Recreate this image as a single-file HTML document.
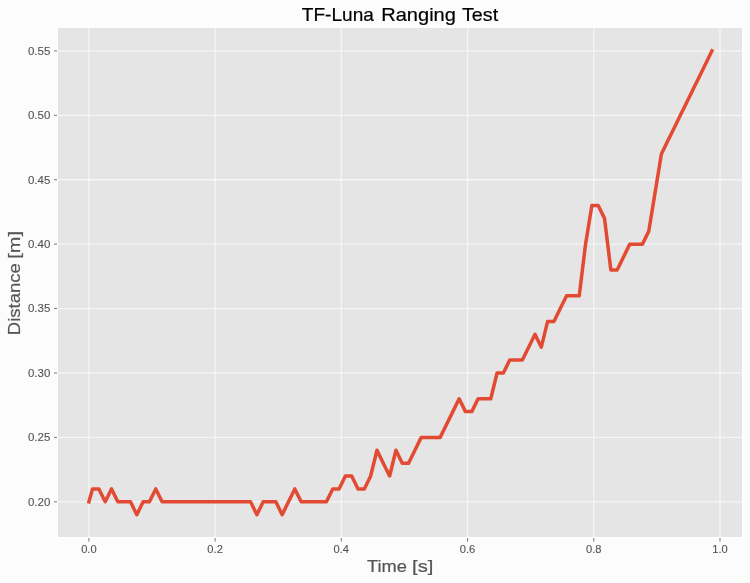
<!DOCTYPE html>
<html><head><meta charset="utf-8"><title>TF-Luna Ranging Test</title>
<style>
html,body{margin:0;padding:0;background:#fcfcfc;width:750px;height:583px;overflow:hidden;}
svg{display:block;will-change:transform;}
text{font-family:"Liberation Sans",sans-serif;}
</style></head>
<body>
<svg width="750" height="583" viewBox="0 0 750 583">
<rect x="0" y="0" width="750" height="583" fill="#fcfcfc"/>
<rect x="57" y="26.5" width="686.5" height="512" fill="#ffffff"/>
<rect x="58" y="28" width="684" height="509" fill="#e5e5e5"/>
<line x1="88.90" y1="28" x2="88.90" y2="537" stroke="#fff" stroke-width="1.3" stroke-opacity="0.6"/>
<line x1="215.12" y1="28" x2="215.12" y2="537" stroke="#fff" stroke-width="1.3" stroke-opacity="0.6"/>
<line x1="341.34" y1="28" x2="341.34" y2="537" stroke="#fff" stroke-width="1.3" stroke-opacity="0.6"/>
<line x1="467.56" y1="28" x2="467.56" y2="537" stroke="#fff" stroke-width="1.3" stroke-opacity="0.6"/>
<line x1="593.78" y1="28" x2="593.78" y2="537" stroke="#fff" stroke-width="1.3" stroke-opacity="0.6"/>
<line x1="720.00" y1="28" x2="720.00" y2="537" stroke="#fff" stroke-width="1.3" stroke-opacity="0.6"/>
<line x1="58" y1="501.80" x2="742" y2="501.80" stroke="#fff" stroke-width="1.3" stroke-opacity="0.6"/>
<line x1="58" y1="437.38" x2="742" y2="437.38" stroke="#fff" stroke-width="1.3" stroke-opacity="0.6"/>
<line x1="58" y1="372.97" x2="742" y2="372.97" stroke="#fff" stroke-width="1.3" stroke-opacity="0.6"/>
<line x1="58" y1="308.56" x2="742" y2="308.56" stroke="#fff" stroke-width="1.3" stroke-opacity="0.6"/>
<line x1="58" y1="244.14" x2="742" y2="244.14" stroke="#fff" stroke-width="1.3" stroke-opacity="0.6"/>
<line x1="58" y1="179.73" x2="742" y2="179.73" stroke="#fff" stroke-width="1.3" stroke-opacity="0.6"/>
<line x1="58" y1="115.31" x2="742" y2="115.31" stroke="#fff" stroke-width="1.3" stroke-opacity="0.6"/>
<line x1="58" y1="50.90" x2="742" y2="50.90" stroke="#fff" stroke-width="1.3" stroke-opacity="0.6"/>
<line x1="88.90" y1="538" x2="88.90" y2="541.5" stroke="#555" stroke-width="0.8"/>
<line x1="215.12" y1="538" x2="215.12" y2="541.5" stroke="#555" stroke-width="0.8"/>
<line x1="341.34" y1="538" x2="341.34" y2="541.5" stroke="#555" stroke-width="0.8"/>
<line x1="467.56" y1="538" x2="467.56" y2="541.5" stroke="#555" stroke-width="0.8"/>
<line x1="593.78" y1="538" x2="593.78" y2="541.5" stroke="#555" stroke-width="0.8"/>
<line x1="720.00" y1="538" x2="720.00" y2="541.5" stroke="#555" stroke-width="0.8"/>
<line x1="54" y1="501.80" x2="57.1" y2="501.80" stroke="#555" stroke-width="0.8"/>
<line x1="54" y1="437.38" x2="57.1" y2="437.38" stroke="#555" stroke-width="0.8"/>
<line x1="54" y1="372.97" x2="57.1" y2="372.97" stroke="#555" stroke-width="0.8"/>
<line x1="54" y1="308.56" x2="57.1" y2="308.56" stroke="#555" stroke-width="0.8"/>
<line x1="54" y1="244.14" x2="57.1" y2="244.14" stroke="#555" stroke-width="0.8"/>
<line x1="54" y1="179.73" x2="57.1" y2="179.73" stroke="#555" stroke-width="0.8"/>
<line x1="54" y1="115.31" x2="57.1" y2="115.31" stroke="#555" stroke-width="0.8"/>
<line x1="54" y1="50.90" x2="57.1" y2="50.90" stroke="#555" stroke-width="0.8"/>
<path d="M88.90 501.80 L92.56 488.92 L98.88 488.92 L105.20 501.80 L111.52 488.92 L117.84 501.80 L124.16 501.80 L130.48 501.80 L136.80 514.68 L143.12 501.80 L149.44 501.80 L155.77 488.92 L162.09 501.80 L168.41 501.80 L174.73 501.80 L181.05 501.80 L187.37 501.80 L193.69 501.80 L200.01 501.80 L206.33 501.80 L212.65 501.80 L218.97 501.80 L225.29 501.80 L231.61 501.80 L237.93 501.80 L244.25 501.80 L250.57 501.80 L256.89 514.68 L263.21 501.80 L269.53 501.80 L275.85 501.80 L282.17 514.68 L288.49 501.80 L294.82 488.92 L301.14 501.80 L307.46 501.80 L313.78 501.80 L320.10 501.80 L326.42 501.80 L332.74 488.92 L339.06 488.92 L345.38 476.03 L351.70 476.03 L358.02 488.92 L364.34 488.92 L370.66 476.03 L376.98 450.27 L383.30 463.15 L389.62 476.03 L395.94 450.27 L402.26 463.15 L408.58 463.15 L414.90 450.27 L421.22 437.38 L427.55 437.38 L433.87 437.38 L440.19 437.38 L446.51 424.50 L452.83 411.62 L459.15 398.74 L465.47 411.62 L471.79 411.62 L478.11 398.74 L484.43 398.74 L490.75 398.74 L497.07 372.97 L503.39 372.97 L509.71 360.09 L516.03 360.09 L522.35 360.09 L528.67 347.20 L534.99 334.32 L541.31 347.20 L547.63 321.44 L553.95 321.44 L560.27 308.56 L566.60 295.67 L572.92 295.67 L579.24 295.67 L585.56 244.14 L591.88 205.49 L598.20 205.49 L604.52 218.37 L610.84 269.91 L617.16 269.91 L623.48 257.02 L629.80 244.14 L636.12 244.14 L642.44 244.14 L648.76 231.26 L655.08 192.61 L661.40 153.96 L667.72 141.08 L674.04 128.19 L680.36 115.31 L686.68 102.43 L693.00 89.54 L699.33 76.66 L705.65 63.78 L711.97 50.90" fill="none" stroke="#e24a33" stroke-width="3.5" stroke-linejoin="round" stroke-linecap="square"/>
<text x="88.90" y="553.35" font-family="'Liberation Sans', sans-serif" font-size="11.2" fill="#555" stroke="#555" stroke-width="0.12" text-anchor="middle" textLength="15.5" lengthAdjust="spacingAndGlyphs">0.0</text>
<text x="215.12" y="553.35" font-family="'Liberation Sans', sans-serif" font-size="11.2" fill="#555" stroke="#555" stroke-width="0.12" text-anchor="middle" textLength="15.5" lengthAdjust="spacingAndGlyphs">0.2</text>
<text x="341.34" y="553.35" font-family="'Liberation Sans', sans-serif" font-size="11.2" fill="#555" stroke="#555" stroke-width="0.12" text-anchor="middle" textLength="15.5" lengthAdjust="spacingAndGlyphs">0.4</text>
<text x="467.56" y="553.35" font-family="'Liberation Sans', sans-serif" font-size="11.2" fill="#555" stroke="#555" stroke-width="0.12" text-anchor="middle" textLength="15.5" lengthAdjust="spacingAndGlyphs">0.6</text>
<text x="593.78" y="553.35" font-family="'Liberation Sans', sans-serif" font-size="11.2" fill="#555" stroke="#555" stroke-width="0.12" text-anchor="middle" textLength="15.5" lengthAdjust="spacingAndGlyphs">0.8</text>
<text x="720.00" y="553.35" font-family="'Liberation Sans', sans-serif" font-size="11.2" fill="#555" stroke="#555" stroke-width="0.12" text-anchor="middle" textLength="15.5" lengthAdjust="spacingAndGlyphs">1.0</text>
<text x="50.3" y="505.70" font-family="'Liberation Sans', sans-serif" font-size="10.8" fill="#555" stroke="#555" stroke-width="0.12" text-anchor="end" textLength="22.4" lengthAdjust="spacingAndGlyphs">0.20</text>
<text x="50.3" y="441.28" font-family="'Liberation Sans', sans-serif" font-size="10.8" fill="#555" stroke="#555" stroke-width="0.12" text-anchor="end" textLength="22.4" lengthAdjust="spacingAndGlyphs">0.25</text>
<text x="50.3" y="376.87" font-family="'Liberation Sans', sans-serif" font-size="10.8" fill="#555" stroke="#555" stroke-width="0.12" text-anchor="end" textLength="22.4" lengthAdjust="spacingAndGlyphs">0.30</text>
<text x="50.3" y="312.46" font-family="'Liberation Sans', sans-serif" font-size="10.8" fill="#555" stroke="#555" stroke-width="0.12" text-anchor="end" textLength="22.4" lengthAdjust="spacingAndGlyphs">0.35</text>
<text x="50.3" y="248.04" font-family="'Liberation Sans', sans-serif" font-size="10.8" fill="#555" stroke="#555" stroke-width="0.12" text-anchor="end" textLength="22.4" lengthAdjust="spacingAndGlyphs">0.40</text>
<text x="50.3" y="183.63" font-family="'Liberation Sans', sans-serif" font-size="10.8" fill="#555" stroke="#555" stroke-width="0.12" text-anchor="end" textLength="22.4" lengthAdjust="spacingAndGlyphs">0.45</text>
<text x="50.3" y="119.21" font-family="'Liberation Sans', sans-serif" font-size="10.8" fill="#555" stroke="#555" stroke-width="0.12" text-anchor="end" textLength="22.4" lengthAdjust="spacingAndGlyphs">0.50</text>
<text x="50.3" y="54.80" font-family="'Liberation Sans', sans-serif" font-size="10.8" fill="#555" stroke="#555" stroke-width="0.12" text-anchor="end" textLength="22.4" lengthAdjust="spacingAndGlyphs">0.55</text>
<text x="301.84" y="21.2" font-family="'Liberation Sans', sans-serif" font-size="19" fill="#000" stroke="#000" stroke-width="0.2" textLength="72.01" lengthAdjust="spacingAndGlyphs">TF-Luna</text>
<text x="381.21" y="21.2" font-family="'Liberation Sans', sans-serif" font-size="19" fill="#000" stroke="#000" stroke-width="0.2" textLength="74.72" lengthAdjust="spacingAndGlyphs">Ranging</text>
<text x="462.04" y="21.2" font-family="'Liberation Sans', sans-serif" font-size="19" fill="#000" stroke="#000" stroke-width="0.2" textLength="36.11" lengthAdjust="spacingAndGlyphs">Test</text>
<text x="367.0" y="572.1" font-family="'Liberation Sans', sans-serif" font-size="16.5" fill="#555" stroke="#555" stroke-width="0.2" textLength="39.95" lengthAdjust="spacingAndGlyphs">Time</text>
<text x="412.06" y="572.1" font-family="'Liberation Sans', sans-serif" font-size="16.5" fill="#555" stroke="#555" stroke-width="0.2" textLength="21.37" lengthAdjust="spacingAndGlyphs">[s]</text>
<text x="0" y="0" transform="translate(19.8 335.25) rotate(-90)" font-family="'Liberation Sans', sans-serif" font-size="16.5" fill="#555" stroke="#555" stroke-width="0.2" textLength="72.16" lengthAdjust="spacingAndGlyphs">Distance</text>
<text x="0" y="0" transform="translate(19.5 258.74) rotate(-90)" font-family="'Liberation Sans', sans-serif" font-size="16.5" fill="#555" stroke="#555" stroke-width="0.2" textLength="27.78" lengthAdjust="spacingAndGlyphs">[m]</text>
</svg>
</body></html>
